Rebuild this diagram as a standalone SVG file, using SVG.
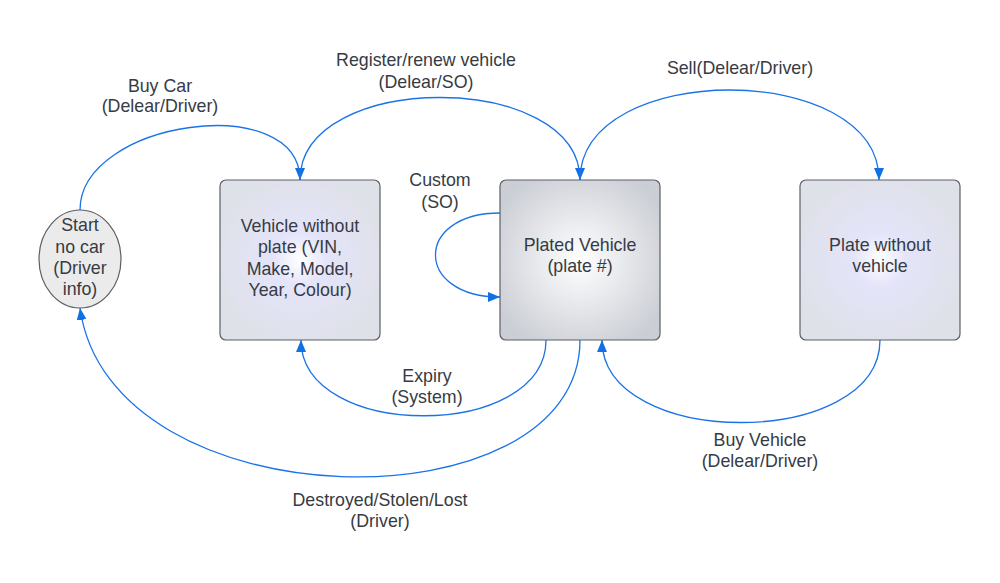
<svg xmlns="http://www.w3.org/2000/svg" width="1000" height="583" viewBox="0 0 1000 583">
<style>
text{font-family:"Liberation Sans",Arial,sans-serif;font-size:17.8px;fill:#363b44;text-anchor:middle}
.box{stroke:#5c5f66;stroke-width:1.2}
.c{fill:none;stroke:#1a73e8;stroke-width:1.3}
.a{marker-end:url(#arr)}
</style>
<defs>
<radialGradient id="gLav" cx="50%" cy="50%" r="55%">
<stop offset="0" stop-color="#ffffff"/>
<stop offset="0.3" stop-color="#e4e4fa"/>
<stop offset="1" stop-color="#dfe1e8"/>
</radialGradient>
<radialGradient id="gGray" cx="50%" cy="50%" r="60%">
<stop offset="0" stop-color="#ffffff"/>
<stop offset="1" stop-color="#cbced5"/>
</radialGradient>
<marker id="arr" viewBox="0 0 12 10" refX="12" refY="5" markerWidth="12" markerHeight="10" markerUnits="userSpaceOnUse" orient="auto">
<path d="M0,0 L12,5 L0,10 z" fill="#1071e5"/>
</marker>
</defs>
<g id="connectors">
<path class="c a" d="M80,210 C80,120 300,90 300,180"/>
<path class="c a" d="M300,180 C300,70 580,70 580,180"/>
<path class="c a" d="M580,180 C580,60 879,60 879,180"/>
<path class="c a" d="M500,213 C414,213 414,297 500,297"/>
<path class="c a" d="M546,340 C546,441 301,441 301,340"/>
<path class="c a" d="M580,340 C580,530 110,525 80,308"/>
<path class="c a" d="M880,340 C880,450 602,450 602,340"/>
</g>
<g id="labels">
<text x="160" y="92">Buy Car</text>
<text x="160" y="112">(Delear/Driver)</text>
<text x="426" y="66">Register/renew vehicle</text>
<text x="426" y="88">(Delear/SO)</text>
<text x="740" y="74">Sell(Delear/Driver)</text>
<text x="440" y="186">Custom</text>
<text x="440" y="208">(SO)</text>
<text x="427" y="382">Expiry</text>
<text x="427" y="403">(System)</text>
<text x="760" y="446">Buy Vehicle</text>
<text x="760" y="467">(Delear/Driver)</text>
<text x="380" y="506">Destroyed/Stolen/Lost</text>
<text x="380" y="527">(Driver)</text>
</g>
<g id="start">
<ellipse class="box" cx="80" cy="259" rx="41" ry="49" fill="#ebebeb"/>
<text x="80" y="231">Start</text>
<text x="80" y="253">no car</text>
<text x="80" y="274">(Driver</text>
<text x="80" y="295">info)</text>
</g>
<g id="vehicle-without-plate">
<rect class="box" x="220" y="180" width="160" height="160" rx="6" fill="url(#gLav)"/>
<text x="300" y="232">Vehicle without</text>
<text x="300" y="253">plate (VIN,</text>
<text x="300" y="275">Make, Model,</text>
<text x="300" y="296">Year, Colour)</text>
</g>
<g id="plated-vehicle">
<rect class="box" x="500" y="180" width="160" height="160" rx="6" fill="url(#gGray)"/>
<text x="580" y="251">Plated Vehicle</text>
<text x="580" y="272">(plate #)</text>
</g>
<g id="plate-without-vehicle">
<rect class="box" x="800" y="180" width="160" height="160" rx="6" fill="url(#gLav)"/>
<text x="880" y="251">Plate without</text>
<text x="880" y="272">vehicle</text>
</g>
</svg>
